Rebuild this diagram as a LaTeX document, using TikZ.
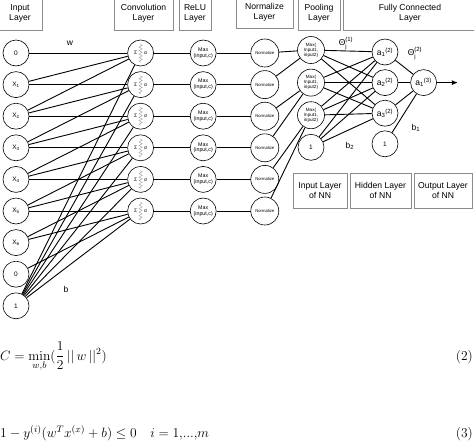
\RequirePackage{fix-cm}
\documentclass[tikz,border=0pt]{standalone}
\usepackage[no-math]{fontspec}
\setmainfont{Liberation Sans}
\usepackage{amsmath}
\usepackage{tikz}
\usetikzlibrary{arrows,positioning,decorations.pathmorphing}
\tikzset{
    %Define standard arrow tip
    >=stealth',
    %Define style for units
    neuron/.style={
           circle,
           draw=black, line width=.6pt,
           minimum size=26pt,
           inner sep=0pt,
           align=center,
           font=\fontsize{6.5}{7}\selectfont},
    convunit/.style={neuron, font=\fontsize{5}{5}\selectfont},
    reluunit/.style={neuron, font=\fontsize{5.3}{5.8}\selectfont},
    normunit/.style={neuron, minimum size=28pt, font=\fontsize{4.2}{5}\selectfont},
    poolunit/.style={neuron, minimum size=27pt, font=\fontsize{4.6}{5}\selectfont},
    nnunit/.style={neuron, font=\fontsize{8.5}{9}\selectfont},
    %Define style for boxes
    layerbox/.style={
           rectangle,
           draw=black!45, line width=.9pt,
           inner sep=0pt,
           align=center,
           font=\fontsize{8.6}{10.5}\selectfont},
    % Define connector style
    wire/.style={
           draw=black, line width=.9pt},
    weight/.style={font=\fontsize{8.5}{9}\selectfont},
    zig/.style={
           draw=black!40, line width=.4pt,
           decorate,
           decoration={zigzag, segment length=3.5pt, amplitude=1.6pt}},
    formula/.style={inner sep=0pt, font=\fontsize{13.5}{15}\selectfont}
}

\begin{document}
\begin{tikzpicture}[x=1pt,y=-1pt,node distance=5pt]
\useasboundingbox (0,0) rectangle (474,440);
% layer titles
\node[layerbox, minimum width=44pt, minimum height=33pt] (tin) at (20,13.5) {Input\\Layer};
\node[layerbox, minimum width=59pt, minimum height=33pt] (tconv) at (143.5,13.5) {Convolution\\Layer};
\node[layerbox, minimum width=32pt, minimum height=33pt] (trelu) at (195,13.5) {ReLU\\Layer};
\node[layerbox, minimum width=57pt, minimum height=31pt] (tnorm) at (264.5,12.5) {Normalize\\Layer};
\node[layerbox, minimum width=42pt, minimum height=33pt] (tpool) at (319,13.5) {Pooling\\Layer};
\node[layerbox, minimum width=134pt, minimum height=33pt] (tfc) at (410,13.5) {Fully Connected\\Layer};
\node[layerbox, minimum width=54pt, minimum height=35pt] (tnnin) at (320,190.5) {Input Layer\\of NN};
\node[layerbox, minimum width=61pt, minimum height=35pt] (tnnhid) at (380.5,190.5) {Hidden Layer\\of NN};
\node[layerbox, minimum width=58pt, minimum height=35pt] (tnnout) at (443,190.5) {Output Layer\\of NN};

% input
\node[neuron] (in1) at (16,53) {0};
\node[neuron, below=of in1] (in2) {X\textsubscript{1}};
\node[neuron, below=of in2] (in3) {X\textsubscript{2}};
\node[neuron, below=of in3] (in4) {X\textsubscript{3}};
\node[neuron, below=of in4] (in5) {X\textsubscript{4}};
\node[neuron, below=of in5] (in6) {X\textsubscript{5}};
\node[neuron, below=of in6] (in7) {X\textsubscript{6}};
\node[neuron, below=of in7] (in8) {0};
\node[neuron, below=of in8] (in9) {1};

% convolution
\node[convunit, right=98pt of in1] (c1) {Σ\hspace{7pt}σ};
\node[convunit, right=98pt of in2] (c2) {Σ\hspace{7pt}σ};
\node[convunit, right=98pt of in3] (c3) {Σ\hspace{7pt}σ};
\node[convunit, right=98pt of in4] (c4) {Σ\hspace{7pt}σ};
\node[convunit, right=98pt of in5] (c5) {Σ\hspace{7pt}σ};
\node[convunit, right=98pt of in6] (c6) {Σ\hspace{7pt}σ};
\foreach \k in {1,...,6}
  \draw[zig] ([yshift=-9pt]c\k.center) -- ([yshift=9pt]c\k.center);

% relu
\node[reluunit, right=36pt of c1] (r1) {Max\\(input,c)};
\node[reluunit, right=36pt of c2] (r2) {Max\\(input,c)};
\node[reluunit, right=36pt of c3] (r3) {Max\\(input,c)};
\node[reluunit, right=36pt of c4] (r4) {Max\\(input,c)};
\node[reluunit, right=36pt of c5] (r5) {Max\\(input,c)};
\node[reluunit, right=36pt of c6] (r6) {Max\\(input,c)};

% normalize
\node[normunit, right=34pt of r1] (n1) {Normalize};
\node[normunit, right=34pt of r2] (n2) {Normalize};
\node[normunit, right=34pt of r3] (n3) {Normalize};
\node[normunit, right=34pt of r4] (n4) {Normalize};
\node[normunit, right=34pt of r5] (n5) {Normalize};
\node[normunit, right=34pt of r6] (n6) {Normalize};

% pooling
\node[poolunit] (p1) at (311,50) {Max(\\Input1,\\input2)};
\node[poolunit, below=of p1] (p2) {Max(\\Input1,\\input2)};
\node[poolunit, below=of p2] (p3) {Max(\\Input1,\\input2)};
\node[neuron, below=of p3] (p4) {1};

% fully connected
\node[nnunit] (h1) at (385,52) {a\textsubscript{1}\textsuperscript{(2)}};
\node[nnunit, below=4pt of h1] (h2) {a\textsubscript{2}\textsuperscript{(2)}};
\node[nnunit, below=4pt of h2] (h3) {a\textsubscript{3}\textsuperscript{(2)}};
\node[neuron, below=4pt of h3] (h4) {1};
\node[nnunit, right=12pt of h2] (o1) {a\textsubscript{1}\textsuperscript{(3)}};
\coordinate[right=20pt of o1] (out);

% weights
\node[weight] (lw) at (70,43) {w};
\node[weight] (lb) at (66,289) {b};
\node[weight] (lt1) at (346,43) {Θ$_{\text{j}}^{\text{(1)}}$};
\node[weight] (lt2) at (415,53) {Θ$_{\text{j}}^{\text{(2)}}$};
\node[weight] (lb1) at (416,128) {b\textsubscript{1}};
\node[weight] (lb2) at (350,146) {b\textsubscript{2}};

\path[wire]
    (in1) edge (c1)
    (in2) edge (c1) (in2) edge (c2)
    (in3) edge (c1) (in3) edge (c2) (in3) edge (c3)
    (in4) edge (c2) (in4) edge (c3) (in4) edge (c4)
    (in5) edge (c3) (in5) edge (c4) (in5) edge (c5)
    (in6) edge (c4) (in6) edge (c5) (in6) edge (c6)
    (in7) edge (c5) (in7) edge (c6)
    (in8) edge (c6)
    (in9) edge (c1) (in9) edge (c2) (in9) edge (c3)
    (in9) edge (c4) (in9) edge (c5) (in9) edge (c6)
    (c1) edge (r1) (c2) edge (r2) (c3) edge (r3)
    (c4) edge (r4) (c5) edge (r5) (c6) edge (r6)
    (r1) edge (n1) (r2) edge (n2) (r3) edge (n3)
    (r4) edge (n4) (r5) edge (n5) (r6) edge (n6)
    (n1) edge (p1) (n2) edge (p1) (n3) edge (p2)
    (n4) edge (p2) (n5) edge (p3) (n6) edge (p3)
    (p1) edge (h1) (p1) edge (h2) (p1) edge (h3)
    (p2) edge (h1) (p2) edge (h2) (p2) edge (h3)
    (p3) edge (h1) (p3) edge (h2) (p3) edge (h3)
    (p4) edge (h1) (p4) edge (h2) (p4) edge (h3)
    (h1) edge (o1) (h2) edge (o1) (h3) edge (o1) (h4) edge (o1);
\draw[wire,->] (o1) -- (out);

% formulas
\node[formula, anchor=base west] (eqcost) at (0,360) {$\displaystyle C=\min_{w,b}(\frac{1}{2}\,||\,w\,||^2)$};
\node[formula, anchor=base east] (eqtwo) at (473,360) {$(2)$};
\node[formula, anchor=base west] (eqcon) at (0,437) {$1-y^{(i)}(w^Tx^{(x)}+b)\leq0\quad i=1{,}{.}{.}{.}{,}m$};
\node[formula, anchor=base east] (eqthree) at (473,437) {$(3)$};
\end{tikzpicture}
\end{document}
